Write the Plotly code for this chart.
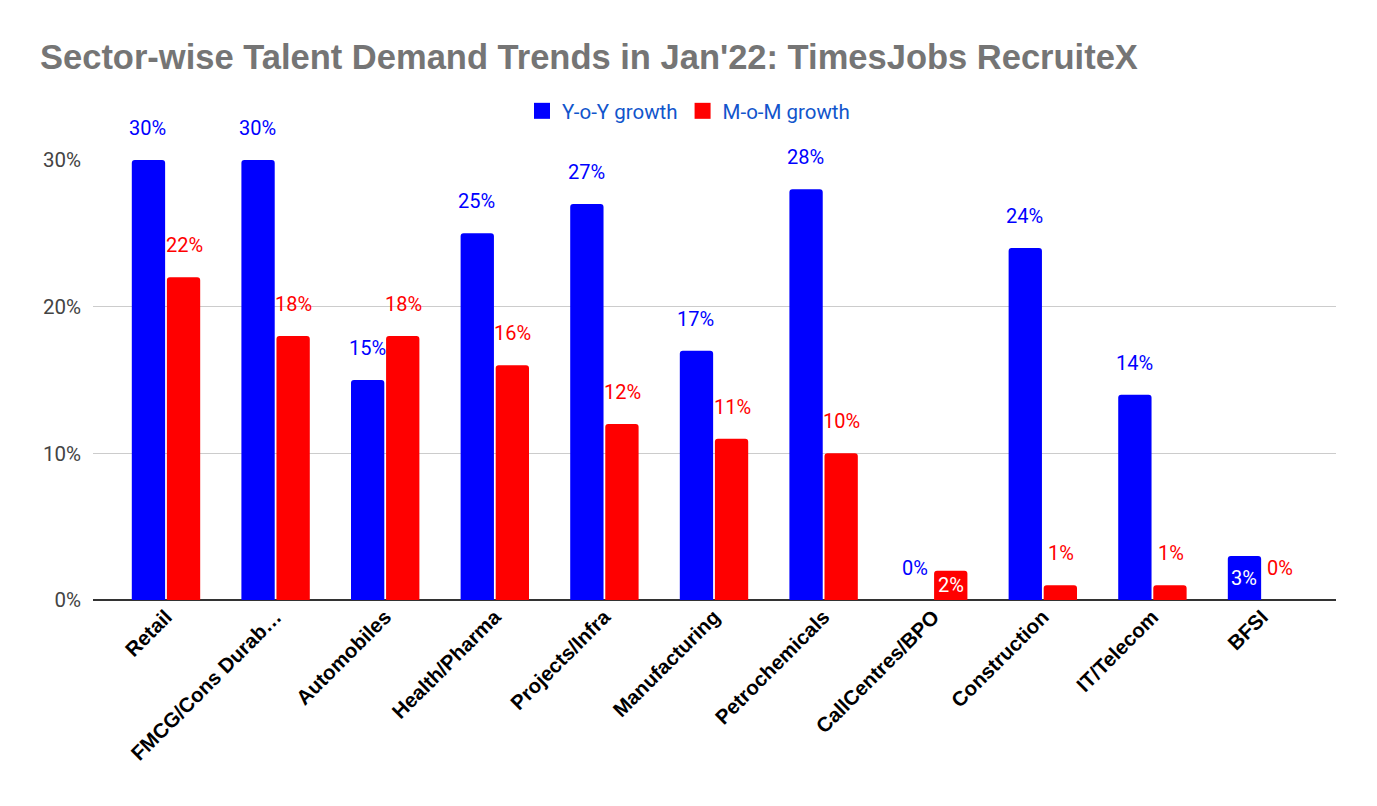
import plotly.graph_objects as go

categories = ["Retail", "FMCG/Cons Durab…", "Automobiles", "Health/Pharma", "Projects/Infra",
              "Manufacturing", "Petrochemicals", "CallCentres/BPO", "Construction", "IT/Telecom", "BFSI"]
yoy = [30, 30, 15, 25, 27, 17, 28, 0, 24, 14, 3]
mom = [22, 18, 18, 16, 12, 11, 10, 2, 1, 1, 0]
series_names = ["Y-o-Y growth", "M-o-M growth"]
tick_vals = [0, 10, 20, 30]
tick_text = ["0%", "10%", "20%", "30%"]

BLUE = "#0000ff"
RED = "#ff0000"
W, H = 1361, 790  # page body has an 8px margin

fig = go.Figure()
fig.add_trace(go.Bar(x=categories, y=yoy, name=series_names[0], marker_color=BLUE,
                     marker_line_width=0, showlegend=False, legendgroup="a"))
fig.add_trace(go.Bar(x=categories, y=mom, name=series_names[1], marker_color=RED,
                     marker_line_width=0, showlegend=False, legendgroup="b"))
# legend entries with larger square swatches
for name, col, grp in ((series_names[0], BLUE, "a"), (series_names[1], RED, "b")):
    fig.add_trace(go.Scatter(x=[None], y=[None], mode="markers", name=name, legendgroup=grp,
                             marker=dict(symbol="square", size=16, color=col, line_width=0),
                             hoverinfo="skip"))

annotations = []
offset = 0.165
for series, sign, col in ((yoy, -1, BLUE), (mom, 1, RED)):
    for i, v in enumerate(series):
        label = f"{v}%"
        xpos = i + sign * offset
        if 2 <= v <= 3:
            annotations.append(dict(x=xpos, y=v / 2, xref="x", yref="y", text=label,
                                    showarrow=False, yanchor="middle",
                                    font=dict(family="Roboto", size=20, color="white")))
        else:
            annotations.append(dict(x=xpos, y=v, xref="x", yref="y", text=label, yshift=32,
                                    showarrow=False, yanchor="middle",
                                    font=dict(family="Roboto", size=20, color=col)))

fig.update_layout(
    width=W, height=H,
    paper_bgcolor="white", plot_bgcolor="white",
    margin=dict(l=85, r=W - 1328, t=152, b=H - 592),
    title=dict(text="<b>Sector-wise Talent Demand Trends in Jan'22: TimesJobs RecruiteX</b>",
               x=32 / W, xref="container", xanchor="left",
               y=1 - 49 / H, yref="container", yanchor="middle",
               font=dict(family="Liberation Sans, Arial", size=34.5, color="#757575")),
    barmode="group", bargap=0.36, bargroupgap=0.05, barcornerradius=3,
    legend=dict(orientation="h", xref="container", x=0.5, xanchor="center",
                yref="container", y=1 - 103 / H, yanchor="middle",
                font=dict(family="Roboto", size=20.5, color="#1155cc"),
                traceorder="normal", itemsizing="trace", itemclick=False),
    annotations=annotations,
    showlegend=True,
)

fig.update_xaxes(type="category", range=[-0.666, 10.675], tickangle=-45,
                 tickfont=dict(family="Liberation Sans, Arial", size=20.5, color="#000000"),
                 showgrid=False, ticks="", showline=False,
                 tickvals=categories, ticktext=[f"<b>{c}</b>" for c in categories])
fig.update_yaxes(range=[0, 30], tickvals=tick_vals, ticktext=tick_text,
                 tickfont=dict(family="Roboto", size=20.5, color="#444444"),
                 showgrid=True, gridcolor="#cccccc", gridwidth=1,
                 zeroline=True, zerolinecolor="#333333", zerolinewidth=2,
                 ticklabelstandoff=11)

fig.write_html("out.html")
